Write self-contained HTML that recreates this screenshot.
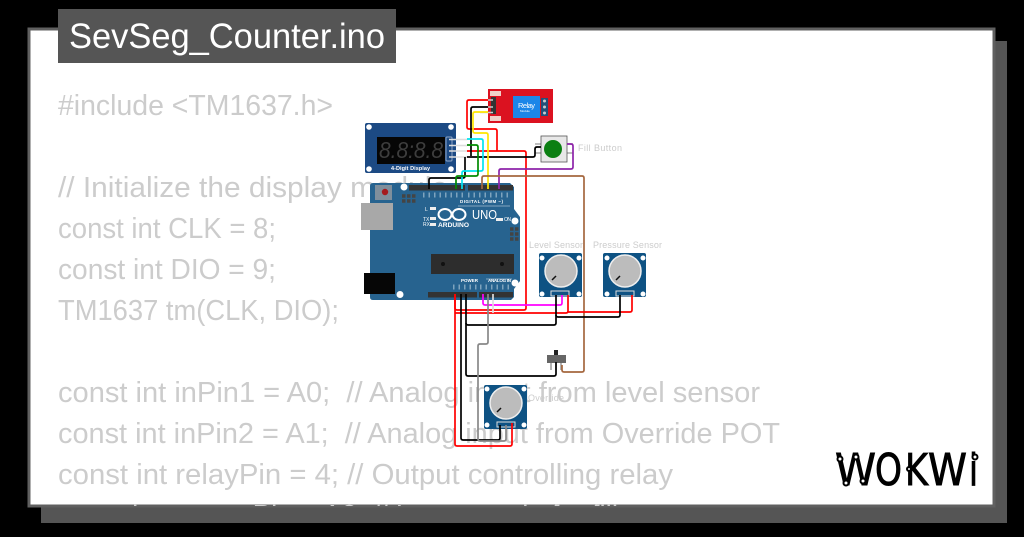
<!DOCTYPE html>
<html><head><meta charset="utf-8"><style>
html,body{margin:0;padding:0;background:#000;width:1024px;height:537px;overflow:hidden}
svg{display:block}
.c{font-family:"Liberation Sans",sans-serif;font-size:29px;fill:#ccc}
.l{font-family:"Liberation Sans",sans-serif;font-size:9px;fill:#ccc}
.w{fill:none;stroke-width:1.7;stroke-linejoin:round}
.a{font-family:"Liberation Sans",sans-serif;fill:#fff}
.k{font-family:"DejaVu Sans",sans-serif;font-size:44px;fill:#000;stroke:#000;stroke-width:.9}
</style></head><body>
<svg width="1024" height="537" viewBox="0 0 1024 537" xmlns="http://www.w3.org/2000/svg">
<defs><clipPath id="f"><rect x="31" y="31" width="962" height="475"/></clipPath></defs>
<rect width="1024" height="537" fill="#000"/>
<rect x="41" y="41" width="966" height="482" fill="#555"/>
<rect x="29" y="29" width="965" height="477" fill="#fff" stroke="#606060" stroke-width="3"/>
<g clip-path="url(#f)">
<text class="c" x="58" y="115" textLength="275" lengthAdjust="spacingAndGlyphs">#include &lt;TM1637.h&gt;</text>
<text class="c" x="58" y="197" textLength="390" lengthAdjust="spacingAndGlyphs">// Initialize the display module</text>
<text class="c" x="58" y="238" textLength="218" lengthAdjust="spacingAndGlyphs">const int CLK = 8;</text>
<text class="c" x="58" y="279" textLength="218" lengthAdjust="spacingAndGlyphs">const int DIO = 9;</text>
<text class="c" x="58" y="320" textLength="281" lengthAdjust="spacingAndGlyphs">TM1637 tm(CLK, DIO);</text>
<text class="c" x="58" y="402" textLength="702" lengthAdjust="spacingAndGlyphs" xml:space="preserve">const int inPin1 = A0;  // Analog input from level sensor</text>
<text class="c" x="58" y="443" textLength="722" lengthAdjust="spacingAndGlyphs" xml:space="preserve">const int inPin2 = A1;  // Analog input from Override POT</text>
<text class="c" x="58" y="484" textLength="615" lengthAdjust="spacingAndGlyphs">const int relayPin = 4; // Output controlling relay</text>
<text class="c" x="58" y="525" textLength="560" lengthAdjust="spacingAndGlyphs">const int sensorPin = A2; // Interrupt pin for fill</text>
</g>
<rect x="58" y="9" width="338" height="54" fill="#555"/>
<text x="69" y="48" font-family="Liberation Sans,sans-serif" font-size="35" fill="#fff" textLength="316" lengthAdjust="spacingAndGlyphs">SevSeg_Counter.ino</text>

<!-- Arduino -->
<path d="M373 183H510L514 187V209L520 217V281L514 289V297L511 300H373Q370 300 370 297V186Q370 183 373 183Z" fill="#27638f"/>
<rect x="361" y="203" width="32" height="27" fill="#a8a8a8"/>
<rect x="364" y="273" width="31" height="21" fill="#060606"/>
<rect x="375" y="185" width="17" height="15" fill="#7f8f9c"/>
<circle cx="385" cy="192" r="3.2" fill="#a51a1e"/>
<circle cx="404" cy="187" r="3.5" fill="#fff"/><circle cx="400" cy="294.5" r="3.5" fill="#fff"/>
<circle cx="515" cy="221" r="3.5" fill="#fff"/><circle cx="515" cy="283" r="3.5" fill="#fff"/>
<path d="M402 196H416M402 201H416" stroke="#444" stroke-width="3.500" stroke-dasharray="3.500 1.500"/>
<path d="M510 229H519M510 234H519M510 239H519" stroke="#444" stroke-width="3.500" stroke-dasharray="3.500 1.500"/>
<rect x="409" y="185" width="56" height="5.500" fill="#333"/><rect x="468" y="185" width="45" height="5.500" fill="#333"/>
<rect x="428" y="292" width="49" height="5.500" fill="#333"/><rect x="479" y="292" width="34" height="5.500" fill="#333"/>
<path d="M423 195H465M468 195H510M453 287H477M480 287H511" stroke="#b9cedd" stroke-width="5" stroke-dasharray="1.500 4" opacity=".6"/>
<rect x="431" y="254" width="83" height="20" fill="#2d2d2d"/>
<circle cx="443" cy="264" r="2" fill="#111"/><circle cx="502" cy="264" r="2" fill="#111"/>
<path d="M458 206H510M486 279H512" stroke="#dfe9f0" stroke-width=".6"/>
<ellipse cx="445" cy="214.5" rx="6.500" ry="5.500" fill="none" stroke="#fff" stroke-width="2"/>
<ellipse cx="459" cy="214.5" rx="6.500" ry="5.500" fill="none" stroke="#fff" stroke-width="2"/>
<text class="a" x="438" y="227" font-size="6.500" font-weight="bold" textLength="31" lengthAdjust="spacingAndGlyphs">ARDUINO</text>
<text class="a" x="472" y="219" font-size="13" textLength="25" lengthAdjust="spacingAndGlyphs">UNO</text>
<text class="a" x="460" y="203" font-size="4.500" font-weight="bold" textLength="43">DIGITAL (PWM ~)</text>
<text class="a" x="461" y="282" font-size="4.500" font-weight="bold" textLength="17">POWER</text>
<text class="a" x="488" y="282" font-size="4.500" font-weight="bold" textLength="23">ANALOG IN</text>
<text class="a" x="504" y="221" font-size="5" textLength="7">ON</text>
<text class="a" x="425" y="211" font-size="5">L</text>
<text class="a" x="423" y="221" font-size="5">TX</text>
<text class="a" x="423" y="226" font-size="5">RX</text>
<rect x="430" y="207" width="6" height="3" fill="#eee"/><rect x="430" y="217" width="6" height="3" fill="#eee"/><rect x="430" y="223" width="6" height="3" fill="#eee"/><rect x="496" y="218" width="7" height="3" fill="#eee"/>

<!-- Display -->
<rect x="365" y="123" width="91" height="50" rx="2" fill="#1c4a84"/>
<circle cx="369" cy="127" r="2.800" fill="#fff"/><circle cx="451" cy="127" r="2.800" fill="#fff"/><circle cx="369" cy="169" r="2.800" fill="#fff"/><circle cx="451" cy="169" r="2.800" fill="#fff"/>
<rect x="377" y="137" width="68" height="27" fill="#060606"/>
<text x="379" y="158" font-family="Liberation Sans,sans-serif" font-style="italic" font-size="23" fill="#3d3d3d" textLength="64" lengthAdjust="spacingAndGlyphs">8.8:8.8</text>
<text class="a" x="391" y="170" font-size="5.500" font-weight="bold" textLength="39">4-Digit Display</text>
<rect x="446" y="137" width="6" height="24" rx="1" fill="none" stroke="#8fa7c8"/>
<path d="M449 139.500H467M449 145.500H467M449 151H467M449 157H467" stroke="#ddd" stroke-width="1.500"/>

<!-- Relay -->
<rect x="488" y="89" width="65" height="34" fill="#db1220"/>
<rect x="513" y="96" width="27" height="22" fill="#1c86e8"/>
<text class="a" x="518" y="108" font-size="7.500" textLength="17">Relay</text>
<text class="a" x="520" y="112" font-size="3">Module</text>
<rect x="541" y="98" width="7" height="18" fill="#23507a"/>
<circle cx="544.500" cy="101" r="1.500" fill="#ccc"/><circle cx="544.500" cy="107" r="1.500" fill="#ccc"/><circle cx="544.500" cy="113" r="1.500" fill="#ccc"/>
<rect x="490" y="91" width="11" height="5" fill="#f0d0c8"/><rect x="490" y="116" width="11" height="5" fill="#f0d0c8"/>
<rect x="491" y="97" width="5" height="17" fill="#333"/>
<path d="M480 100H493M480 107H493M480 112.500H493" stroke="#ccc" stroke-width="1.500"/>

<!-- Button -->
<path d="M535 144H541M535 153H541M567 144H573M567 153H573" stroke="#aaa" stroke-width="1.500"/>
<rect x="541" y="136" width="26" height="26" fill="#e8e8e8" stroke="#555" stroke-width=".8"/>
<circle cx="553" cy="149" r="9" fill="#0b7f12"/>
<text class="l" x="578" y="151" textLength="44">Fill Button</text>

<!-- Pots -->
<g>
<rect x="539" y="253" width="43" height="44" rx="2" fill="#0e5283"/>
<circle cx="542" cy="258" r="2.500" fill="#fff"/><circle cx="579" cy="258" r="2.500" fill="#fff"/><circle cx="542" cy="294" r="2.500" fill="#fff"/><circle cx="579" cy="294" r="2.500" fill="#fff"/>
<circle cx="561" cy="271" r="16" fill="#bcbcbc" stroke="#eee" stroke-width="1.500"/>
<path d="M552 280L556 276" stroke="#111" stroke-width="1.500"/>
<rect x="551" y="291" width="18" height="5" fill="none" stroke="#ddd"/>
</g>
<g>
<rect x="603" y="253" width="43" height="44" rx="2" fill="#0e5283"/>
<circle cx="607" cy="258" r="2.500" fill="#fff"/><circle cx="643" cy="258" r="2.500" fill="#fff"/><circle cx="607" cy="294" r="2.500" fill="#fff"/><circle cx="643" cy="294" r="2.500" fill="#fff"/>
<circle cx="625" cy="271" r="16" fill="#bcbcbc" stroke="#eee" stroke-width="1.500"/>
<path d="M616 280L620 276" stroke="#111" stroke-width="1.500"/>
<rect x="616" y="291" width="18" height="5" fill="none" stroke="#ddd"/>
</g>
<g>
<rect x="484" y="385" width="43" height="44" rx="2" fill="#0e5283"/>
<circle cx="487" cy="389" r="2.500" fill="#fff"/><circle cx="524" cy="389" r="2.500" fill="#fff"/><circle cx="487" cy="425" r="2.500" fill="#fff"/><circle cx="524" cy="425" r="2.500" fill="#fff"/>
<circle cx="506" cy="403" r="16" fill="#bcbcbc" stroke="#eee" stroke-width="1.500"/>
<path d="M497 412L501 408" stroke="#111" stroke-width="1.500"/>
<rect x="497" y="422" width="18" height="5" fill="none" stroke="#ddd"/>
</g>
<text class="l" x="529" y="248" textLength="54">Level Sensor</text>
<text class="l" x="593" y="248" textLength="69">Pressure Sensor</text>
<text class="l" x="528" y="401" textLength="36">Override</text>

<!-- Switch -->
<rect x="554" y="350" width="4" height="6" fill="#222"/>
<rect x="547" y="355" width="19" height="8" fill="#666"/>
<path d="M551 363V370M556 363V370M561 363V370" stroke="#999" stroke-width="1.500"/>

<!-- Wires -->
<g class="w">
<path stroke="#f00" d="M488 100H469Q467 100 467 102V127Q467 129 469 129H495Q497 129 497 131V151"/>
<path stroke="#f00" d="M467 151H524Q526 151 526 153V308Q526 310 524 310H457Q455 310 455 308V294"/>
<path stroke="#000" d="M488 107H473Q471 107 471 109V156"/>
<path stroke="#000" d="M467 157H533Q535 157 535 155V149Q535 147 537 147H541"/>
<path stroke="#000" d="M465 157V176Q465 178 463 178H431Q429 178 429 180V189"/>
<path stroke="#ffe600" d="M488 112H475Q473 112 473 114V131Q473 133 475 133H486Q488 133 488 135V189"/>
<path stroke="#00e5f0" d="M467 139H481Q483 139 483 141V169Q483 171 481 171H464Q462 171 462 173V189"/>
<path stroke="#008a00" d="M467 145H476Q478 145 478 147V174Q478 176 476 176H458Q456 176 456 178V189"/>
<path stroke="#8e24aa" d="M567 144H571Q573 144 573 146V167Q573 169 571 169H501Q499 169 499 171V189"/>
<path stroke="#a5673f" d="M482 189V178Q482 176 484 176H582Q584 176 584 178V370Q584 372 582 372H564Q562 372 562 370V365"/>
<path stroke="#f0f" d="M483 294V303Q483 305 485 305H560Q562 305 562 303V295"/>
<path stroke="#f00" d="M455 294V444Q455 446 457 446H510Q512 446 512 444V423"/>
<path stroke="#f00" d="M455 313H566Q568 313 568 311V295"/>
<path stroke="#f00" d="M568 312H630Q632 312 632 310V295"/>
<path stroke="#000" d="M461 294V438Q461 440 463 440H498Q500 440 500 438V425"/>
<path stroke="#000" d="M466 294V374Q466 376 468 376H554Q556 376 556 374V362"/>
<path stroke="#000" d="M466 323Q466 325 468 325H554Q556 325 556 323V295"/>
<path stroke="#000" d="M556 315Q556 317 558 317H618Q620 317 620 315V295"/>
<path stroke="#888" d="M488 294V342Q488 344 486 344H480Q478 344 478 346V439Q478 441 480 441H504Q506 441 506 439V425"/>
<path stroke="#ddd" d="M493 294V313"/>
</g>

<!-- Logo -->
<text class="k" x="835" y="485" textLength="41" lengthAdjust="spacingAndGlyphs">W</text>
<text class="k" x="875" y="485" textLength="27" lengthAdjust="spacingAndGlyphs">O</text>
<text class="k" x="905" y="485" textLength="23" lengthAdjust="spacingAndGlyphs">K</text>
<text class="k" x="928" y="485" textLength="39" lengthAdjust="spacingAndGlyphs">W</text>
<text class="k" x="969" y="485" textLength="9" lengthAdjust="spacingAndGlyphs">i</text>
<g fill="#fff" stroke="#000" stroke-width="2">
<circle cx="840" cy="459" r="2.500"/><circle cx="856" cy="457" r="2.500"/><circle cx="846" cy="483" r="2.500"/><circle cx="863" cy="481" r="2.500"/><circle cx="909" cy="469" r="2"/><circle cx="975" cy="457" r="2.500"/>
</g>
</svg>
</body></html>
